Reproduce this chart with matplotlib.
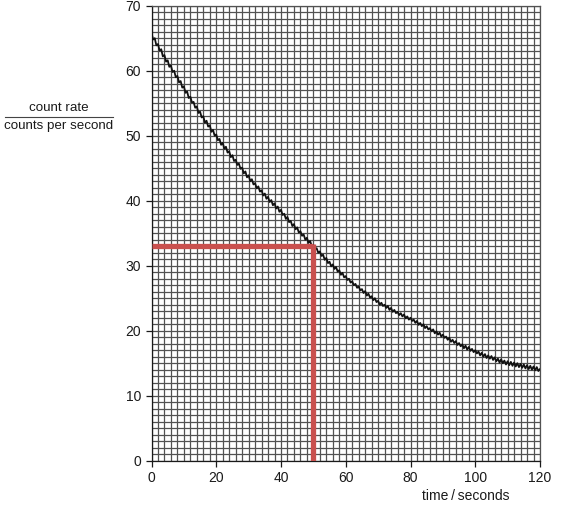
import numpy as np
import matplotlib
matplotlib.use("Agg")
import matplotlib.pyplot as plt

plt.rcParams['font.family'] = ['Liberation Sans', 'DejaVu Sans']

# time axis: readings every 0.5 s from 0 to 120 s
time_s = np.arange(0, 120.5, 0.5)

count_rate = [
    65.8, 64.8, 65.0, 63.9, 64.1, 63.1, 63.3, 62.2, 62.4, 61.4,
    61.6, 60.6, 60.8, 59.8, 60.0, 59.0, 59.2, 58.2, 58.4, 57.4,
    57.6, 56.6, 56.8, 55.8, 56.0, 55.1, 55.2, 54.3, 54.5, 53.5,
    53.7, 52.8, 53.0, 52.0, 52.3, 51.4, 51.6, 50.6, 50.9, 50.0,
    50.2, 49.3, 49.5, 48.6, 48.9, 48.0, 48.3, 47.4, 47.6, 46.7,
    47.0, 46.1, 46.3, 45.5, 45.7, 44.9, 45.1, 44.2, 44.5, 43.6,
    43.9, 43.0, 43.3, 42.5, 42.7, 41.9, 42.2, 41.4, 41.6, 40.8,
    41.1, 40.3, 40.6, 39.8, 40.1, 39.3, 39.6, 38.8, 39.1, 38.3,
    38.6, 37.8, 38.0, 37.2, 37.5, 36.7, 36.9, 36.1, 36.4, 35.6,
    35.9, 35.1, 35.3, 34.6, 34.8, 34.0, 34.3, 33.5, 33.8, 33.0,
    33.2, 32.5, 32.7, 32.0, 32.2, 31.5, 31.7, 30.9, 31.2, 30.4,
    30.6, 29.9, 30.2, 29.5, 29.8, 29.1, 29.3, 28.6, 28.9, 28.2,
    28.4, 27.8, 28.0, 27.4, 27.6, 27.0, 27.2, 26.6, 26.8, 26.2,
    26.4, 25.8, 26.1, 25.4, 25.7, 25.1, 25.3, 24.7, 25.0, 24.4,
    24.6, 24.0, 24.3, 23.8, 24.0, 23.5, 23.8, 23.2, 23.5, 22.9,
    23.2, 22.7, 22.9, 22.4, 22.7, 22.2, 22.5, 21.9, 22.2, 21.7,
    22.0, 21.5, 21.7, 21.2, 21.5, 20.9, 21.2, 20.7, 21.0, 20.4,
    20.7, 20.2, 20.4, 19.9, 20.2, 19.6, 19.9, 19.4, 19.7, 19.1,
    19.4, 18.9, 19.1, 18.6, 18.9, 18.3, 18.6, 18.1, 18.4, 17.8,
    18.1, 17.6, 17.9, 17.3, 17.7, 17.1, 17.5, 16.9, 17.2, 16.7,
    17.0, 16.5, 16.8, 16.2, 16.6, 16.0, 16.4, 15.8, 16.2, 15.7,
    16.1, 15.5, 15.9, 15.3, 15.7, 15.1, 15.6, 15.0, 15.4, 14.8,
    15.3, 14.7, 15.2, 14.6, 15.1, 14.5, 15.0, 14.4, 14.9, 14.3,
    14.8, 14.2, 14.7, 14.1, 14.6, 14.0, 14.5, 13.9, 14.4, 13.8,
    14.1,
]

half_life_t = 50
half_rate = 33

x_ticks = [0, 20, 40, 60, 80, 100, 120]
y_ticks = [0, 10, 20, 30, 40, 50, 60, 70]

fig = plt.figure(figsize=(5.65, 5.13), dpi=100)
ax = fig.add_axes([151.5 / 565, 1 - 460.7 / 513, (540 - 151.5) / 565, (460.7 - 5.7) / 513])

ax.set_xlim(0, 120)
ax.set_ylim(0, 70)

grid_col = '#525252'
for gx in np.arange(0, 121, 2):
    ax.axvline(gx, color=grid_col, lw=0.9, zorder=1)
for gy in np.arange(0, 71, 1):
    ax.axhline(gy, color=grid_col, lw=0.9, zorder=1)

ax.plot(time_s, count_rate, color='#111111', lw=1.3, zorder=3)

red = '#c9504e'
ax.plot([0, half_life_t], [half_rate, half_rate], color=red, lw=3.8,
        solid_capstyle='butt', zorder=4)
ax.plot([half_life_t, half_life_t], [0, half_rate + 0.28], color=red, lw=3.8,
        solid_capstyle='butt', zorder=4)

ax.set_xticks(x_ticks)
ax.set_yticks(y_ticks)
ax.tick_params(direction='out', length=4.5, width=0.9, labelsize=10,
               colors='#1a1a1a', pad=3)

for side in ['top', 'right']:
    ax.spines[side].set_color(grid_col)
    ax.spines[side].set_linewidth(0.9)
for side in ['left', 'bottom']:
    ax.spines[side].set_color('#1a1a1a')
    ax.spines[side].set_linewidth(0.9)

fig.text(466 / 565, 1 - 496 / 513, 'time\u2009/\u2009seconds', ha='center', va='center',
         fontsize=10, color='#1a1a1a')
fig.text(59 / 565, 1 - 108 / 513, 'count rate', ha='center', va='center',
         fontsize=9.6, color='#1a1a1a')
fig.text(59 / 565, 1 - 126 / 513, 'counts per second', ha='center', va='center',
         fontsize=9.6, color='#1a1a1a')
fig.add_artist(plt.Line2D([5 / 565, 113 / 565], [1 - 117 / 513, 1 - 117 / 513],
                          color='#444444', lw=0.8))

fig.savefig('out.png', dpi=100)
